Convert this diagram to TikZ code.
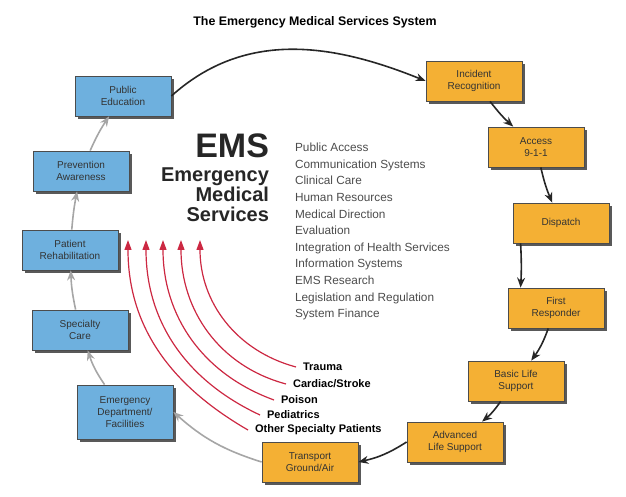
\documentclass[tikz,border=0pt]{standalone}
\usepackage{fontspec}
\setmainfont{Liberation Sans}
\usetikzlibrary{arrows, arrows.meta, shadows}
\definecolor{boxblue}{RGB}{110,176,222}
\definecolor{boxorange}{RGB}{244,176,52}
\definecolor{redflow}{RGB}{204,40,66}

\tikzset{
  stage/.style={draw=black!70, thin, minimum width=48pt, minimum height=20pt, align=center,
    font=\fontsize{5}{6}\selectfont, text=black!80,
    drop shadow={shadow xshift=1.4pt, shadow yshift=-1.4pt, fill=black!65, opacity=1}},
  care/.style={stage, fill=boxblue},
  resp/.style={stage, fill=boxorange},
  flow/.style={-{Stealth[length=5pt,width=4pt]}, thick, black!85},
  back/.style={-{Stealth[length=5pt,width=4pt]}, thick, gray!70},
  patient/.style={-{Triangle[length=5pt,width=3.5pt]}, redflow, semithick},
  plabel/.style={anchor=west, font=\bfseries\fontsize{5.5}{6}\selectfont}
}

\begin{document}
\begin{tikzpicture}[x=0.5pt,y=0.5pt]
\useasboundingbox (0,0) rectangle (626,497);
\node[font=\bfseries\fontsize{6.2}{7}\selectfont] (title) at (315,475) {The Emergency Medical Services System};
%---------------------------------------------------
\node[resp] (ir)  at (474,416) {Incident\\Recognition};
\node[resp] (acc) at (536,350) {Access\\9-1-1};
\node[resp] (dis) at (561,274) {Dispatch};
\node[resp] (fr)  at (556,189) {First\\Responder};
\node[resp] (bls) at (516,116) {Basic Life\\Support};
\node[resp] (als) at (455,55)  {Advanced\\Life Support};
\node[resp] (tr)  at (310,35)  {Transport\\Ground/Air};
%---------------------------------------------------
\node[care] (pe) at (123,401) {Public\\Education};
\node[care] (pa) at (81,326)  {Prevention\\Awareness};
\node[care] (pr) at (70,247)  {Patient\\Rehabilitation};
\node[care] (sc) at (80,167)  {Specialty\\Care};
\node[care, minimum height=27pt] (ed) at (125,85) {Emergency\\Department/\\Facilities};
%---------------------------------------------------
\draw[flow] (pe.east) to[out=42,in=158] (ir.west);
\draw[flow] (ir) to[bend right=5] (acc);
\draw[flow] (acc) to[bend right=5] (dis);
\draw[flow] (dis.south west) ++(8,0) coordinate (d1) (d1) to[bend left=3] (d1 |- fr.north);
\draw[flow] (fr) to[bend left=8] (bls);
\draw[flow] (bls) to[bend left=8] (als);
\draw[flow] (als.west) to[bend left=10] (tr.east);
\draw[back] (tr.west) to[bend left=12] (ed.east);
\draw[back] (ed) to[bend left=8] (sc);
\draw[back] (sc) to[bend left=5] (pr);
\draw[back] (pr) to[bend left=3] (pa);
\draw[back] (pa) to[bend left=5] (pe);
%---------------------------------------------------
\node[anchor=north east, align=right, font=\bfseries\fontsize{10}{10}\selectfont, text=black!85] (ems) at (276,370)
  {{\fontsize{17}{18}\selectfont EMS}\\[2pt]Emergency\\Medical\\Services};
\node[anchor=north west, align=left, font=\fontsize{5.9}{8.3}\selectfont, text=black!70] (comp) at (288,361)
  {Public Access\\Communication Systems\\Clinical Care\\Human Resources\\Medical Direction\\Evaluation\\Integration of Health Services\\Information Systems\\EMS Research\\Legislation and Regulation\\System Finance};
%---------------------------------------------------
\node[plabel] (trauma)  at (296,130) {Trauma};
\node[plabel] (cardiac) at (286,113) {Cardiac/Stroke};
\node[plabel] (poison)  at (274,97)  {Poison};
\node[plabel] (pedi)    at (260,82)  {Pediatrics};
\node[plabel] (other)   at (248,67)  {Other Specialty Patients};
\coordinate (t1) at (200,257);
\coordinate (t2) at (181,257);
\coordinate (t3) at (163,257);
\coordinate (t4) at (146,257);
\coordinate (t5) at (128,257);
\draw[patient] (trauma.west)  to[out=165,in=-90] (t1);
\draw[patient] (cardiac.west) to[out=165,in=-90] (t2);
\draw[patient] (poison.west)  to[out=160,in=-90] (t3);
\draw[patient] (pedi.west)    to[out=155,in=-90] (t4);
\draw[patient] (other.west)   to[out=150,in=-90] (t5);
\end{tikzpicture}
\end{document}
